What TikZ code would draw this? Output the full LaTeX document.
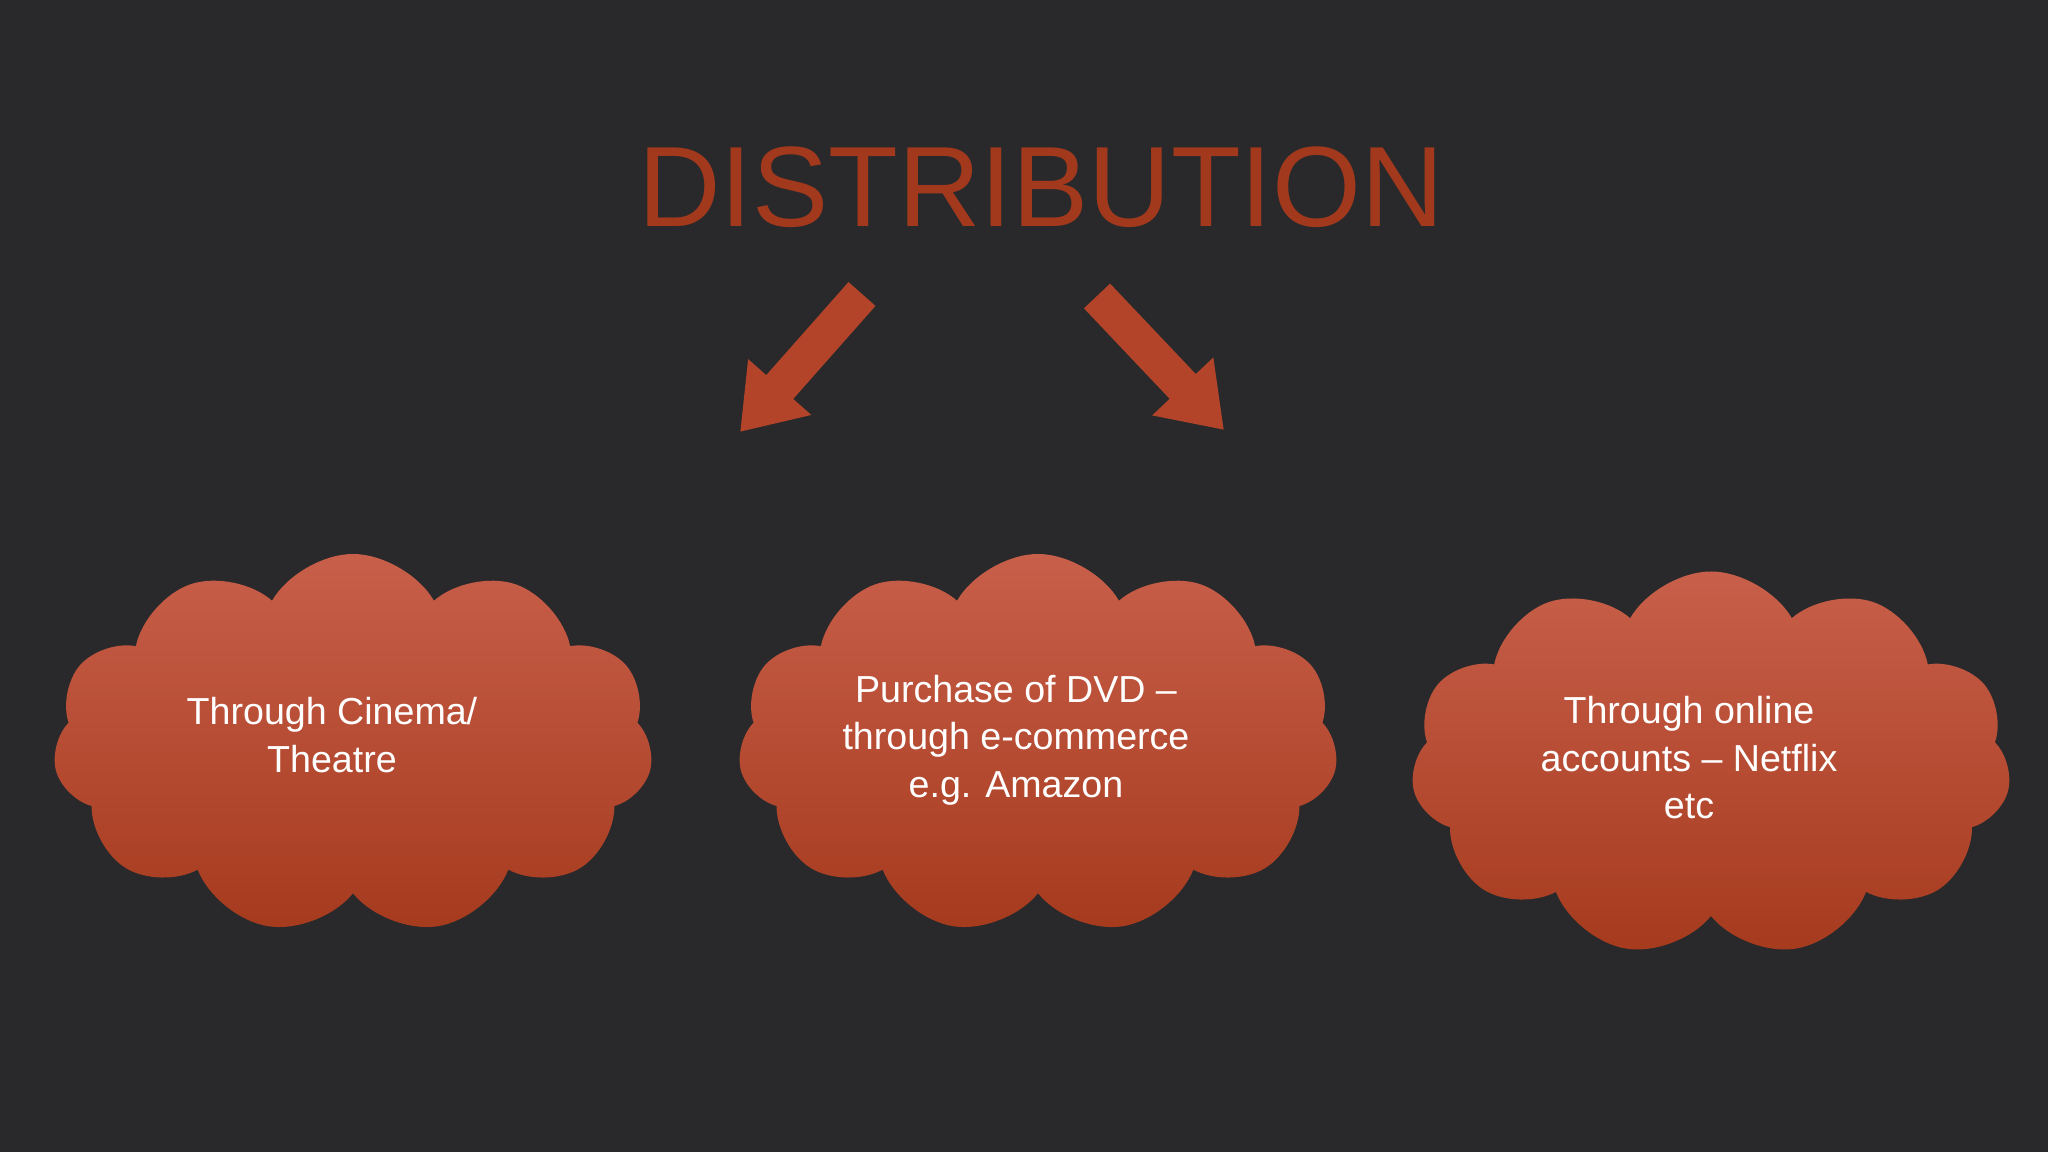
\documentclass[tikz,border=0pt]{standalone}
\usepackage{fontspec}
\setmainfont{Liberation Sans}
\usetikzlibrary{shapes.symbols,arrows.meta}
\definecolor{bg}{HTML}{29292B}
\definecolor{titlec}{HTML}{A3391C}
\definecolor{ctop}{HTML}{C85F4A}
\definecolor{cbot}{HTML}{A53A1D}
\definecolor{arr}{HTML}{B3442A}
\tikzset{
  cloudbox/.style={cloud, cloud puffs=11, cloud puff arc=120, aspect=1.6,
    top color=ctop, bottom color=cbot, draw=none, inner sep=0pt},
  cloudtext/.style={text=white, align=center, font=\fontsize{10.7}{13.5}\selectfont},
  bigarrow/.style={draw=arr, line width=0.36cm, line cap=butt,
    -{Triangle[width=0.8cm,length=0.6cm]}}
}
\begin{document}
\begin{tikzpicture}
\fill[bg] (0,0) rectangle (20.48,11.52);
\useasboundingbox (0,0) rectangle (20.48,11.52);
\node[text=titlec, font=\fontsize{32.5}{36}\selectfont] (title) at (10.41,9.65) {DISTRIBUTION};
\coordinate (lt) at (8.62,8.58);
\coordinate (lh) at (7.40,7.20);
\coordinate (rt) at (10.97,8.56);
\coordinate (rh) at (12.24,7.22);
\draw[bigarrow] (lt) -- (lh);
\draw[bigarrow] (rt) -- (rh);
\node[cloudbox, minimum width=6.0cm, minimum height=3.8cm] (c1) at (3.53,4.08) {};
\node[cloudbox, minimum width=6.0cm, minimum height=3.8cm] (c2) at (10.38,4.08) {};
\node[cloudbox, minimum width=6.0cm, minimum height=3.85cm] (c3) at (17.11,3.88) {};
\node[cloudtext] (t1) at ([xshift=-0.21cm,yshift=0.09cm]c1.center) {Through Cinema/\\Theatre};
\node[cloudtext] (t2) at ([xshift=-0.22cm,yshift=0.04cm]c2.center) {Purchase of DVD –\\through e-commerce\\e.g. Amazon};
\node[cloudtext] (t3) at ([xshift=-0.22cm,yshift=0.06cm]c3.center) {Through online\\accounts – Netflix\\etc};
\end{tikzpicture}
\end{document}
